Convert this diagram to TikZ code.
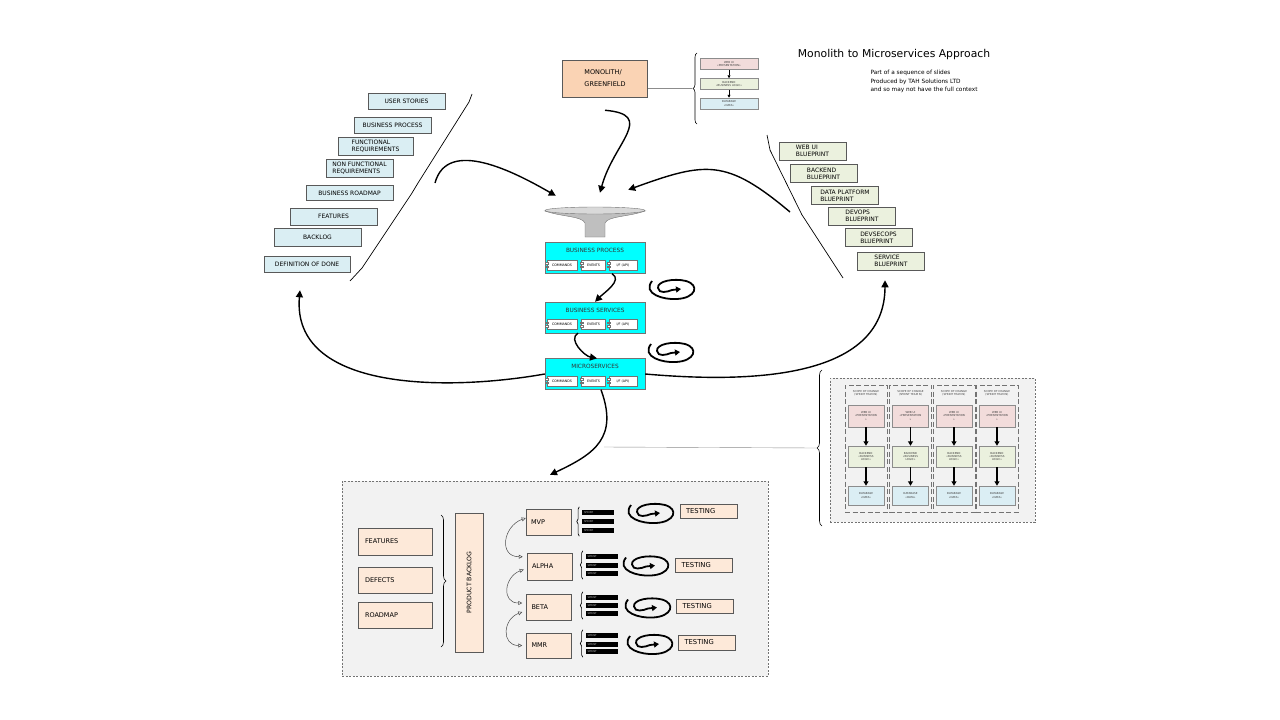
\documentclass[tikz,border=0pt]{standalone}
\usepackage{fontspec}
\setmainfont{DejaVu Sans}
\usetikzlibrary{positioning,arrows.meta,decorations.pathreplacing}

\definecolor{listblue}{HTML}{DAEEF3}
\definecolor{listgreen}{HTML}{EBF1DE}
\definecolor{peach}{HTML}{FDE9D9}
\definecolor{monofill}{HTML}{FAD3B4}
\definecolor{webpink}{HTML}{F2DCDB}
\definecolor{dbblue}{HTML}{DBEEF4}
\definecolor{svccyan}{HTML}{00FFFF}
\definecolor{panelgray}{HTML}{F2F2F2}
\definecolor{funnelgray}{HTML}{BFBFBF}

\tikzset{
  loopicon/.pic={
    \draw[line width=1.8pt,-{Triangle[length=5pt,width=6pt]}]
      (-20,-8) .. controls (-30,5) and (-8,11) .. (5,10)
      .. controls (24,9) and (28,-4) .. (14,-8)
      .. controls (2,-11) and (-15,-8) .. (-14,-1)
      .. controls (-13,5) and (-5,3) .. (0,1) -- (9,0);
  }
}

\begin{document}
\begin{tikzpicture}[x=1pt,y=-1pt,
  box/.style={draw=black!65,line width=0.5pt,inner sep=1.5pt},
  bluebox/.style={box,fill=listblue,font=\fontsize{6}{7}\selectfont},
  greenbox/.style={box,fill=listgreen,font=\fontsize{6}{7}\selectfont,align=left,minimum width=67pt,minimum height=18pt},
  peachbox/.style={box,fill=peach,font=\fontsize{6.5}{7.5}\selectfont,align=left},
  svcbox/.style={draw=black!55,fill=svccyan,minimum width=100pt,minimum height=31pt},
  svctitle/.style={font=\fontsize{5.8}{7}\selectfont,text=black!80},
  comp/.style={draw=black!55,fill=white,font=\fontsize{3.3}{4}\selectfont,minimum height=10pt,inner sep=0.5pt},
  tinytext/.style={font=\fontsize{2.7}{3.4}\selectfont,align=center,text=black!75},
  layerbox/.style={box,draw=black!45,tinytext,minimum width=36pt,inner sep=0.5pt},
  sprintbar/.style={fill=black,text width=28pt,inner xsep=2pt,inner ysep=0pt,minimum height=5pt,align=left,font=\fontsize{2.6}{3}\selectfont,text=black!30},
  panel/.style={draw=black!55,dash pattern=on 2pt off 1.5pt,fill=panelgray},
  teamcol/.style={draw=black!55,dash pattern=on 5pt off 2.5pt,line width=0.8pt,fill=panelgray,minimum width=42pt,minimum height=127pt},
  flow/.style={line width=1.4pt,-{Triangle[length=7pt,width=7pt]}},
  stepflow/.style={draw=black!70,line width=0.5pt,{Triangle[open,length=4pt,width=4pt]}-{Triangle[open,length=4pt,width=4pt]}},
  layerflow/.style={line width=1.4pt,-{Triangle[length=4.5pt,width=5pt]}},
  bracket/.style={decorate,decoration={brace,amplitude=#1}},
]
\useasboundingbox (0,0) rectangle (1280,720);
\fill[white] (0,0) rectangle (1280,720);

\node[font=\fontsize{10.8}{12}\selectfont] (title) at (894,55) {Monolith to Microservices Approach};
\node[font=\fontsize{5.8}{8.4}\selectfont,align=left,anchor=north west] (subtitle) at (867,67) {Part of a sequence of slides\\Produced by TAH Solutions LTD\\and so may not have the full context};

\node[box,fill=monofill,minimum width=85pt,minimum height=37pt,font=\fontsize{6.5}{12}\selectfont,align=left] (mono) at (605,78.5) {MONOLITH/\\GREENFIELD};
\draw[bracket=4pt,line width=0.6pt] (697,124) -- (697,53);
\coordinate (monobrace) at (692,88.5);
\draw[black!45] (mono.east |- monobrace) -- (monobrace);
\node[layerbox,fill=webpink,minimum width=58pt,minimum height=11pt] (sweb) at (729,64) {WEB UI\\<<PRESENTATION>>};
\node[layerbox,fill=listgreen,minimum width=58pt,minimum height=11pt] (sbe) at (729,84) {BACKEND\\<<BUSINESS LOGIC>>};
\node[layerbox,fill=dbblue,minimum width=58pt,minimum height=11pt] (sdb) at (729,103.5) {DATABASE\\<<DATA>>};
\draw[line width=0.8pt,-{Triangle[length=3pt,width=3pt]}] (sweb) -- (sbe);
\draw[line width=0.8pt,-{Triangle[length=3pt,width=3pt]}] (sbe) -- (sdb);

\node[bluebox,minimum width=77pt,minimum height=16pt] (userstories) at (406.5,101.5) {USER STORIES};
\node[bluebox,minimum width=77pt,minimum height=16pt] (bizprocess) at (392.5,125) {BUSINESS PROCESS};
\node[bluebox,minimum width=75pt,minimum height=18pt,align=left] (funcreq) at (375.5,146) {FUNCTIONAL\\REQUIREMENTS};
\node[bluebox,minimum width=67pt,minimum height=18pt,align=left] (nonfuncreq) at (359.5,168) {NON FUNCTIONAL\\REQUIREMENTS};
\node[bluebox,minimum width=87pt,minimum height=15pt] (roadmap) at (349.5,193) {BUSINESS ROADMAP};
\node[bluebox,minimum width=87pt,minimum height=17pt] (features) at (333.5,216.5) {FEATURES\hspace{16pt}};
\node[bluebox,minimum width=87pt,minimum height=18pt] (backlog) at (317.5,237) {BACKLOG\hspace{22pt}};
\node[bluebox,minimum width=86pt,minimum height=16pt] (dod) at (307,264) {DEFINITION OF DONE};
\draw[line width=0.7pt] (472,94) -- (469,102) -- (418,183) -- (412,193) -- (362,268) -- (350,281);

\node[greenbox] (webbp) at (812.5,151) {WEB UI\\BLUEPRINT};
\node[greenbox] (backendbp) at (823.5,173.5) {BACKEND\\BLUEPRINT};
\node[greenbox] (databp) at (845,195.5) {DATA PLATFORM\\BLUEPRINT};
\node[greenbox] (devopsbp) at (862,216) {DEVOPS\\BLUEPRINT};
\node[greenbox] (devsecopsbp) at (878.5,237.5) {DEVSECOPS\\BLUEPRINT};
\node[greenbox] (servicebp) at (891,261) {SERVICE\\BLUEPRINT};
\draw[line width=0.7pt] (767,135) -- (770,150) -- (802,215) -- (806,221) -- (843,278);

\draw[black!55,fill=funnelgray] (545,211) .. controls (562,217) and (582,216) .. (585,223) -- (585,237) -- (605,237) -- (605,223) .. controls (608,216) and (628,217) .. (645,211) -- cycle;
\draw[black!55,fill=funnelgray!60] (595,210.5) ellipse [x radius=50pt,y radius=3.5pt];
\node[minimum width=100pt,minimum height=38pt,inner sep=0pt] (funnel) at (595,219) {};

\foreach \svc/\cy/\txt in {bizproc/258/BUSINESS PROCESS,bizsvc/317.5/BUSINESS SERVICES,micro/374/MICROSERVICES}{
  \node[svcbox] (\svc) at (595,\cy) {};
  \node[svctitle] (\svc-title) at (595,\cy-7.5) {\txt};
  \node[comp,minimum width=30pt] (\svc-cmd) at (562,\cy+7) {COMMANDS};
  \node[comp,minimum width=24pt] (\svc-evt) at (593.5,\cy+7) {EVENTS};
  \node[comp,minimum width=28pt] (\svc-api) at (623,\cy+7) {I/F (API)};
  \foreach \part in {cmd,evt,api}{
    \draw[black!55,fill=white,line width=0.3pt] ([xshift=-1.5pt,yshift=1pt]\svc-\part.west) rectangle ([xshift=1.5pt,yshift=2.6pt]\svc-\part.west);
    \draw[black!55,fill=white,line width=0.3pt] ([xshift=-1.5pt,yshift=-1pt]\svc-\part.west) rectangle ([xshift=1.5pt,yshift=-2.6pt]\svc-\part.west);
  }
}
\pic at (672,289) {loopicon};
\pic at (671,352) {loopicon};

\node[panel,minimum width=205pt,minimum height=144pt] (scopepanel) at (932.5,450) {};
\foreach \cx [count=\i] in {866,910.5,954,997}{
  \node[teamcol] (team\i) at (\cx,448.5) {};
  \node[tinytext] (team\i-head) at (\cx,393) {SCOPE OF CHANGE\\(SPRINT TEAM N)};
  \node[layerbox,fill=webpink,minimum height=22pt] (team\i-web) at (\cx,416) {WEB UI\\<<PRESENTATION\\>>};
  \node[layerbox,fill=listgreen,minimum height=21pt] (team\i-be) at (\cx,456.5) {BACKEND\\<<BUSINESS\\LOGIC>>};
  \node[layerbox,fill=dbblue,minimum height=19pt] (team\i-db) at (\cx,495.5) {DATABASE\\<<DATA>>};
  \draw[layerflow] (team\i-web) -- (team\i-be);
  \draw[layerflow] (team\i-be) -- (team\i-db);
}
\draw[bracket=5pt,line width=0.6pt] (822,526) -- (822,370);
\coordinate (scopebrace) at (816,448);

\node[panel,minimum width=426pt,minimum height=195pt] (devpanel) at (555,578.5) {};
\node[peachbox,text width=60pt,inner xsep=7pt,minimum height=27pt] (featbox) at (395,541.5) {FEATURES};
\node[peachbox,text width=60pt,inner xsep=7pt,minimum height=26pt] (defectbox) at (395,580) {DEFECTS};
\node[peachbox,text width=60pt,inner xsep=7pt,minimum height=26pt] (roadmapbox) at (395,615) {ROADMAP};
\draw[bracket=5pt,line width=0.6pt] (441,515) -- (441,647);
\node[box,fill=peach,rotate=90,minimum width=139pt,minimum height=28pt,font=\fontsize{6.2}{7}\selectfont] (prodbacklog) at (469,582.5) {PRODUCT BACKLOG\hspace{63pt}};

\node[peachbox,text width=35pt,inner xsep=5pt,minimum height=26pt] (mvp) at (548.5,522) {MVP};
\node[peachbox,text width=35pt,inner xsep=5pt,minimum height=27pt] (alpha) at (549.5,566.5) {ALPHA};
\node[peachbox,text width=35pt,inner xsep=5pt,minimum height=26pt] (beta) at (549,607) {BETA};
\node[peachbox,text width=35pt,inner xsep=5pt,minimum height=25pt] (mmr) at (549,645.5) {MMR};

\foreach \st/\bx/\ya/\yb/\yc in {mvp/598/512.5/521.5/530.5,alpha/601.5/556.5/565.5/573.5,beta/601.5/597.5/605.5/613.5,mmr/601.5/635.5/644.5/651.5}{
  \foreach \by [count=\k] in {\ya,\yb,\yc}
    \node[sprintbar] (\st-sprint\k) at (\bx,\by) {SPRINT};
  \draw[bracket=2.5pt,line width=0.6pt] ([xshift=-2.5pt,yshift=-3pt]\st-sprint3.south west) -- ([xshift=-2.5pt,yshift=3pt]\st-sprint1.north west);
}
\foreach \lx/\ly in {651/513,646/565.5,648/607.5,650/644}
  \pic at (\lx,\ly) {loopicon};

\node[peachbox,text width=45pt,inner xsep=6pt,minimum height=14pt,font=\fontsize{6.8}{8}\selectfont] (mvp-test) at (708.5,511) {TESTING};
\node[peachbox,text width=45pt,inner xsep=6pt,minimum height=14pt,font=\fontsize{6.8}{8}\selectfont] (alpha-test) at (704,565) {TESTING};
\node[peachbox,text width=45pt,inner xsep=6pt,minimum height=14pt,font=\fontsize{6.8}{8}\selectfont] (beta-test) at (705,606) {TESTING};
\node[peachbox,text width=45pt,inner xsep=6pt,minimum height=15pt,font=\fontsize{6.8}{8}\selectfont] (mmr-test) at (707,642.5) {TESTING};

\draw[stepflow] ([yshift=4pt]mvp.west) to[out=200,in=180,looseness=1.6] ([xshift=-4pt,yshift=-4pt]alpha.north west);
\draw[stepflow] ([xshift=-3pt,yshift=-3pt]alpha.west) to[out=200,in=180,looseness=1.6] ([xshift=-4pt,yshift=4pt]beta.west);
\draw[stepflow] ([xshift=-4pt,yshift=-5pt]beta.west) to[out=200,in=180,looseness=1.6] ([xshift=-4pt]mmr.west);

\coordinate (leftstart) at (435,183);
\coordinate (rightstart) at (790,212);
\draw[flow] ([yshift=-13pt]mono.south) to[out=-5,in=75,looseness=1.6] ([xshift=5pt,yshift=7pt]funnel.north);
\draw[flow] (leftstart) to[out=75,in=150] ([xshift=11pt,yshift=4pt]funnel.north west);
\draw[flow] (rightstart) to[out=140,in=20,looseness=1.3] ([xshift=-17pt,yshift=10pt]funnel.north east);
\draw[flow] ([xshift=17pt]bizproc.south) to[out=-30,in=45] (bizsvc.north);
\draw[flow] ([xshift=-17pt]bizsvc.south) to[out=-150,in=170] ([xshift=2pt]micro.north);
\draw[flow] (micro.west) to[out=190,in=-95] ([xshift=-7pt,yshift=-18pt]dod.south);
\draw[flow] (micro.east) to[out=-5,in=-90] ([xshift=-6pt,yshift=-10pt]servicebp.south);
\draw[flow] ([xshift=6pt]micro.south) to[out=-70,in=25,looseness=1.3] ([xshift=-5pt,yshift=6pt]devpanel.north);
\coordinate (scopesplit) at (604,447);
\draw[black!45] (scopesplit) -- (scopebrace);
\end{tikzpicture}
\end{document}
